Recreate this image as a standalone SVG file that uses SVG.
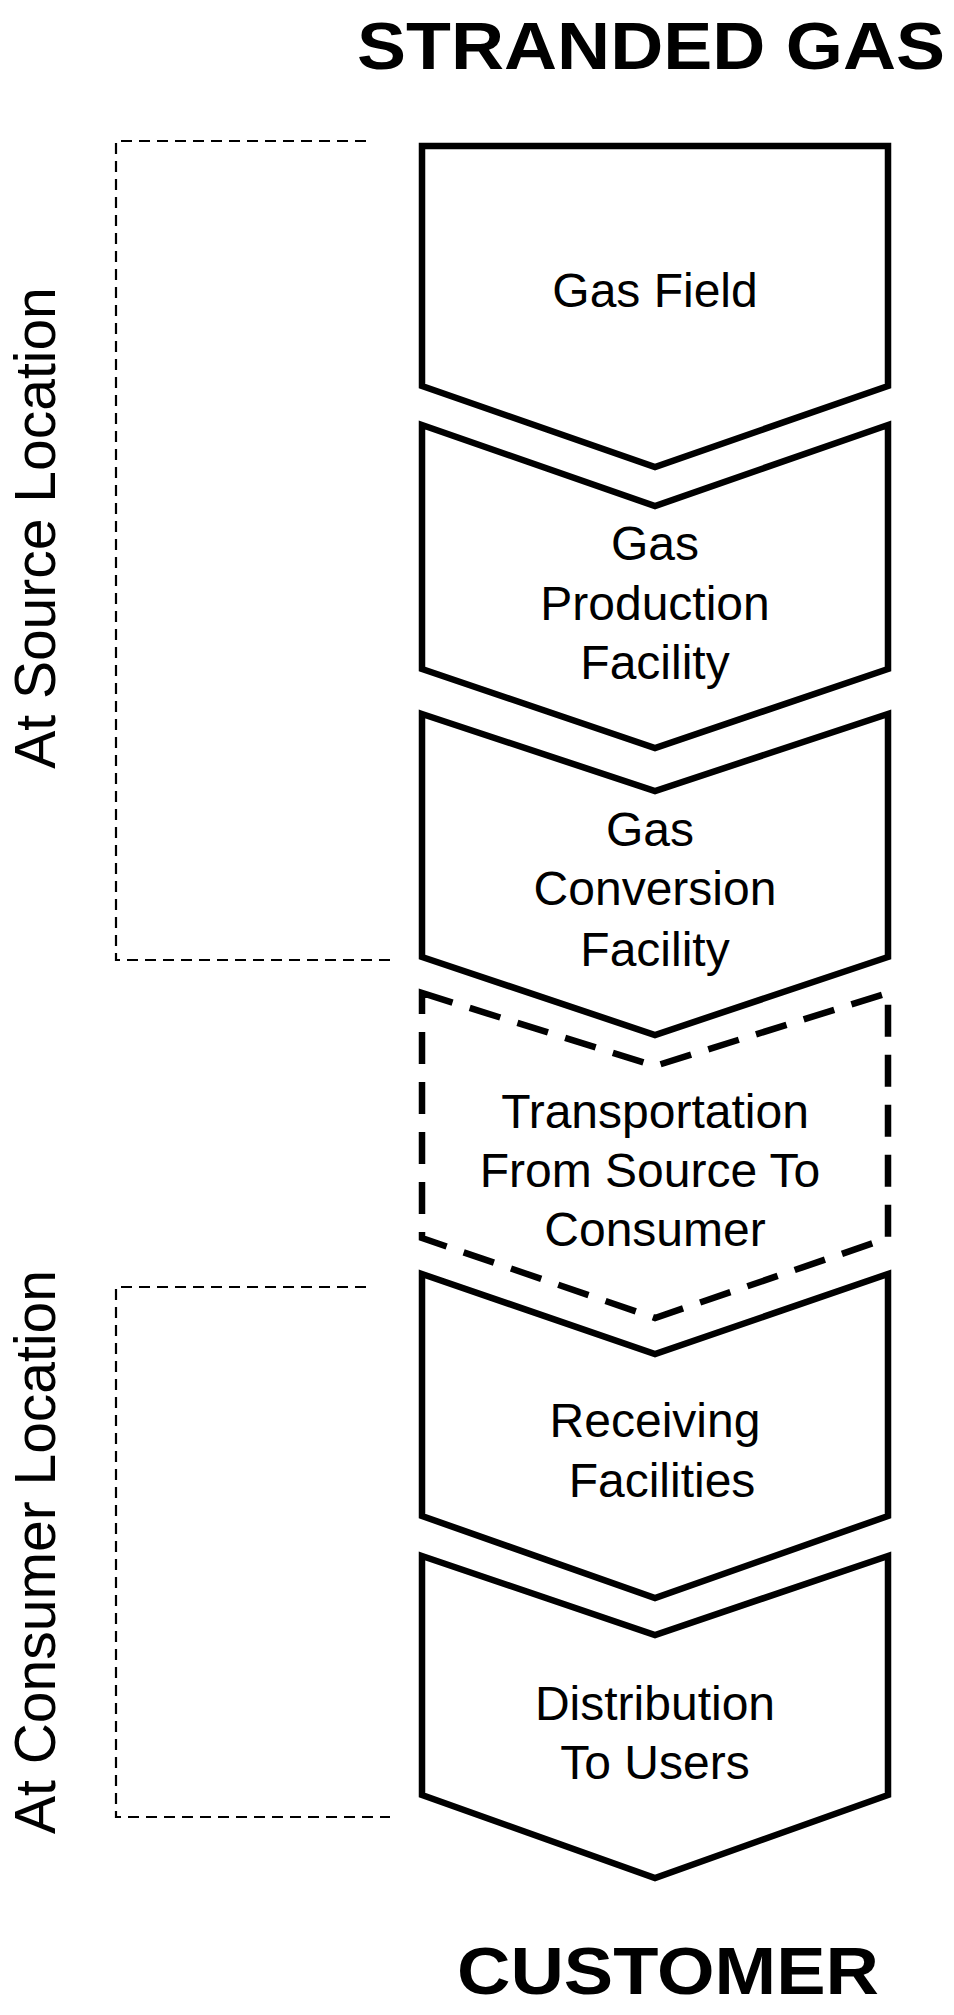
<svg xmlns="http://www.w3.org/2000/svg" width="954" height="2015" viewBox="0 0 954 2015">
<style>
.s{fill:#fff;stroke:#000;stroke-width:6.5;stroke-linejoin:miter}
.d{stroke-dasharray:32 18}
.t{font-family:"Liberation Sans",Arial,sans-serif;font-size:48px;text-anchor:middle;fill:#000}
.v{font-family:"Liberation Sans",Arial,sans-serif;font-size:57px;text-anchor:middle;fill:#000}
.h{font-family:"Liberation Sans",Arial,sans-serif;font-weight:bold;font-size:66px;text-anchor:middle;fill:#000}
.b{fill:none;stroke:#000;stroke-width:2.2;stroke-dasharray:11 7}
</style>
<rect width="954" height="2015" fill="#fff"/>
<text class="h" x="651" y="69" textLength="588" lengthAdjust="spacingAndGlyphs">STRANDED GAS</text>
<text class="h" x="668" y="1994" textLength="422" lengthAdjust="spacingAndGlyphs">CUSTOMER</text>
<g id="connectors">
<path class="b" d="M366 141 H116 V960 H390"/>
<path class="b" d="M366 1287 H116 V1817 H390"/>
</g>
<text class="v" transform="translate(55 528) rotate(-90)">At Source Location</text>
<text class="v" transform="translate(55 1552) rotate(-90)">At Consumer Location</text>
<g id="n1"><path class="s" d="M422 146 H888 V386 L655 467 L422 386 Z"/><text class="t" x="655" y="307">Gas Field</text></g>
<g id="n2"><path class="s" d="M422 425 L655 506 L888 425 V669 L655 748 L422 669 Z"/><text class="t" x="655" y="560">Gas</text><text class="t" x="655" y="620">Production</text><text class="t" x="655" y="679">Facility</text></g>
<g id="n3"><path class="s" d="M422 714 L655 791 L888 714 V957 L655 1035 L422 957 Z"/><text class="t" x="650" y="846">Gas</text><text class="t" x="655" y="905">Conversion</text><text class="t" x="655" y="966">Facility</text></g>
<g id="n4"><path class="s d" d="M422 993 L655 1066 L888 993 V1238 L655 1318 L422 1238 Z"/><text class="t" x="655" y="1128">Transportation</text><text class="t" x="650" y="1187">From Source To</text><text class="t" x="655" y="1246">Consumer</text></g>
<g id="n5"><path class="s" d="M422 1274 L655 1354 L888 1274 V1516 L655 1598 L422 1516 Z"/><text class="t" x="655" y="1437">Receiving</text><text class="t" x="662" y="1497">Facilities</text></g>
<g id="n6"><path class="s" d="M422 1556 L655 1635 L888 1556 V1795 L655 1878 L422 1795 Z"/><text class="t" x="655" y="1720">Distribution</text><text class="t" x="655" y="1779">To Users</text></g>
</svg>
